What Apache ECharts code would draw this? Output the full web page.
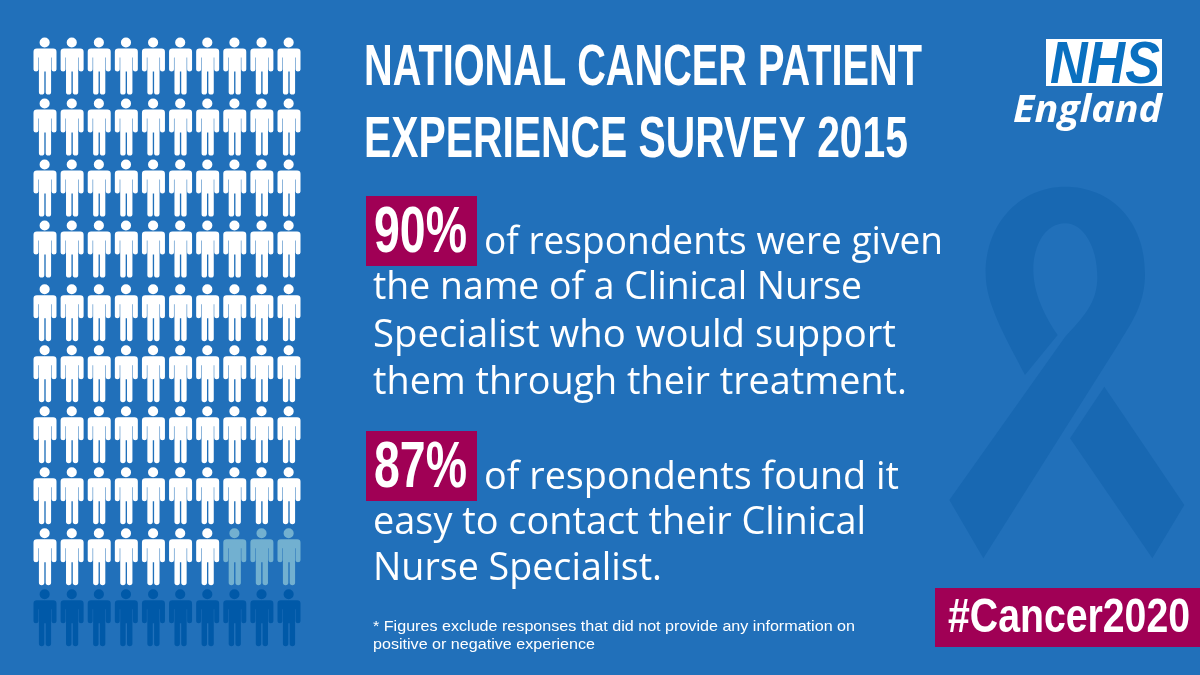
<!DOCTYPE html>
<html>
<head>
<meta charset="utf-8">
<style>html,body{margin:0;padding:0;background:#2170ba}#main{width:1200px;height:675px}</style>
<script src="https://cdn.jsdelivr.net/npm/echarts@6/dist/echarts.min.js"></script>
</head>
<body>
<div id="main"></div>
<script>
// 数据
var shareNames = ['positive', 'given name only', 'negative']
var shareValues = [87, 3, 10]
var shareColors = ['#ffffff', '#72b0d0', '#0059a8']
var columns = 10
var rows = 10

var titleLines = ['NATIONAL CANCER PATIENT', 'EXPERIENCE SURVEY 2015']
var statOne = '90%'
var statOneLines = ['of respondents were given', 'the name of a Clinical Nurse', 'Specialist who would support', 'them through their treatment.']
var statTwo = '87%'
var statTwoLines = ['of respondents found it', 'easy to contact their Clinical', 'Nurse Specialist.']
var footLines = ['* Figures exclude responses that did not provide any information on', 'positive or negative experience']
var hashTag = '#Cancer2020'

var BG = '#2170ba', RIBBON = '#1868b2', MAGENTA = '#a00055'

// 小人图形
var personPath = 'path://M33,0 A15,15 0 1 1 32.9,0 Z M0,43 Q0,33 10,33 L58,33 Q68,33 68,43 L68,96 Q68,102 60.5,102 Q53.5,102 53.5,96 L53.5,60 L52,60 L52,164 Q52,171 44,171 Q36,171 36,164 L36,102 L32,102 L32,164 Q32,171 24,171 Q16,171 16,164 L16,60 L14.5,60 L14.5,96 Q14.5,102 7.5,102 Q0,102 0,96 Z'

// 丝带形状要先注册，graphic 组件才认识
echarts.graphic.registerShape('ribbon', echarts.graphic.extendPath('M315,585 C250,460 197,370 197,280 C197,120 310,20 435,20 C570,20 675,120 675,280 C675,370 640,420 600,485 L190,1135 L88,960 L435,471 C490,410 532,370 532,290 C532,200 490,130 435,130 C380,130 340,190 340,270 C340,340 375,410 413,465 Z M553,620 L793,975 L697,1135 L450,775 Z', {}))

// 按比例排 10 x 10 的格子
var cells = shareValues.map(function () { return [] })
var k = 0
shareValues.forEach(function (v, s) {
    for (var i = 0; i < v; i++) {
        cells[s].push([k % columns, Math.floor(k / columns)])
        k++
    }
})

// 量文字宽度，用 scaleX 压到目标宽度
var ctx = document.createElement('canvas').getContext('2d')
function fitText(text, font, left, right, y, color, z) {
    ctx.font = font
    var w = ctx.measureText(text).width
    return {
        type: 'text', x: left, y: y, scaleX: (right - left) / w, z: z || 10, silent: true,
        style: { text: text, font: font, fill: color || '#fff', verticalAlign: 'middle', align: 'left' }
    }
}
var titleFont = 'bold 58px "Liberation Sans Narrow","Liberation Sans"'
var bodyFont = '39px "Open Sans"'
var statFont = 'bold 64px "Liberation Sans Narrow","Liberation Sans"'

var graphics = [
    // 丝带
    { type: 'ribbon', x: 920, y: 180, scaleX: 1 / 3, scaleY: 1 / 3, z: 1, silent: true, style: { fill: RIBBON } },
    // 标题
    fitText(titleLines[0], titleFont, 364, 922, 69),
    fitText(titleLines[1], titleFont, 364, 908, 141),
    // 紫色块
    { type: 'rect', shape: { x: 366, y: 196, width: 111, height: 70 }, style: { fill: MAGENTA }, z: 5, silent: true },
    { type: 'rect', shape: { x: 366, y: 431, width: 111, height: 70 }, style: { fill: MAGENTA }, z: 5, silent: true },
    { type: 'rect', shape: { x: 935, y: 588, width: 265, height: 59 }, style: { fill: MAGENTA }, z: 5, silent: true },
    fitText(statOne, statFont, 374, 467, 234),
    fitText(statTwo, statFont, 374, 467, 469),
    fitText(hashTag, 'bold 48px "Liberation Sans Narrow","Liberation Sans"', 948, 1190, 619),
    // 正文
    fitText(statOneLines[0], bodyFont, 484, 943, 243),
    fitText(statOneLines[1], bodyFont, 373, 862, 288),
    fitText(statOneLines[2], bodyFont, 373, 896, 336),
    fitText(statOneLines[3], bodyFont, 373, 907, 383),
    fitText(statTwoLines[0], bodyFont, 484, 899, 478),
    fitText(statTwoLines[1], bodyFont, 373, 866, 523),
    fitText(statTwoLines[2], bodyFont, 373, 662, 569),
    // 脚注
    fitText(footLines[0], '15px "Liberation Sans"', 373, 855, 627),
    fitText(footLines[1], '15px "Liberation Sans"', 373, 595, 645),
    // NHS England
    { type: 'rect', shape: { x: 1046, y: 39, width: 116, height: 47 }, style: { fill: '#fff' }, z: 5, silent: true },
    fitText('NHS', 'italic bold 60px "Liberation Sans"', 1050, 1160, 66, '#0a70c0'),
    fitText('England', 'italic bold 38px "Open Sans"', 1013, 1162, 111)
]

var myChart = echarts.init(document.getElementById('main'), null, { renderer: 'canvas' })
var option = {
    backgroundColor: BG,
    animation: false,
    grid: { left: 45, width: 244, top: 66, height: 549 },
    xAxis: { type: 'value', min: 0, max: columns - 1, show: false },
    yAxis: { type: 'value', min: 0, max: rows - 1, inverse: true, show: false },
    series: cells.map(function (data, s) {
        return {
            name: shareNames[s],
            type: 'scatter',
            // 下面几行比上面四行多空一点
            data: data.map(function (d) {
                return { value: d, symbolOffset: [0, d[1] >= 4 ? 2.7 : 0] }
            }),
            symbol: personPath,
            symbolSize: [23, 57],
            itemStyle: { color: shareColors[s], opacity: 1 },
            silent: true
        }
    }),
    graphic: { elements: graphics }
}
myChart.setOption(option)
window.addEventListener('resize', function () { myChart.resize() })
</script>
</body>
</html>
